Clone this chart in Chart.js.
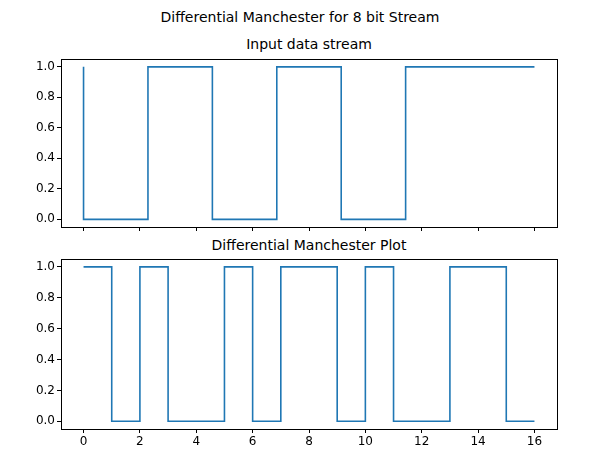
<!DOCTYPE html>
<html><head><meta charset="utf-8">
<script src="https://cdn.jsdelivr.net/npm/chart.js@4"></script>
<style>
body{margin:0;width:600px;height:457px;position:relative;background:#fff;font-family:"DejaVu Sans",sans-serif;overflow:hidden}
.t{position:absolute;color:#000;white-space:nowrap;transform:translate(-50%,-50%)}
canvas{position:absolute;left:0}
</style></head><body>
<div class="t" style="left:300px;top:17px;font-size:14px">Differential Manchester for 8 bit Stream</div>
<div class="t" style="left:309px;top:44px;font-size:14px">Input data stream</div>
<div class="t" style="left:309px;top:245px;font-size:14px">Differential Manchester Plot</div>
<div style="position:absolute;left:0;top:50px;width:600px;height:190px"><canvas id="c1"></canvas></div>
<div style="position:absolute;left:0;top:250px;width:600px;height:207px"><canvas id="c2"></canvas></div>
<script>
const inputX = [0, 16/7, 32/7, 48/7, 64/7, 80/7, 96/7, 16];
const inputY = [1, 0, 1, 0, 1, 0, 1, 1];
const manchX = [0,1,2,3,4,5,6,7,8,9,10,11,12,13,14,15,16];
const manchY = [1,0,1,0,0,1,0,1,1,0,1,0,0,1,1,0,0];
const xTicks = [0,2,4,6,8,10,12,14,16];
const yTicks = [0,0.2,0.4,0.6,0.8,1.0];

const box = {id:'box',afterDraw(c){const a=c.chartArea,x=c.ctx;x.save();x.strokeStyle='#000';x.lineWidth=1;x.strokeRect(Math.round(a.left)+0.5,Math.round(a.top)+0.5,Math.round(a.right-a.left),Math.round(a.bottom-a.top));x.restore();}};

function make(id, xs, ys, stepped, showX, padTop, xh){
  new Chart(document.getElementById(id),{
    type:'line',
    data:{datasets:[{data:xs.map((x,i)=>({x,y:ys[i]})),borderColor:'#1f77b4',borderWidth:1.6,pointRadius:0,stepped:stepped,fill:false}]},
    options:{responsive:true,maintainAspectRatio:false,animation:false,
      layout:{padding:{left:0,right:43,top:padTop,bottom:0}},
      plugins:{legend:{display:false},tooltip:{enabled:false}},
      scales:{
        x:{type:'linear',min:-0.8,max:16.8,
          afterBuildTicks:s=>{s.ticks=xTicks.map(v=>({value:v}));},
          afterFit:s=>{s.height=xh;},
          grid:{drawOnChartArea:false,drawTicks:true,tickLength:4,color:'#000'},
          border:{display:false},
          ticks:{display:showX,color:'#000',font:{family:'DejaVu Sans',size:12},maxRotation:0,padding:2}},
        y:{min:-0.05,max:1.05,
          afterBuildTicks:s=>{s.ticks=yTicks.map(v=>({value:v}));},
          afterFit:s=>{s.width=61;},
          grid:{drawOnChartArea:false,drawTicks:true,tickLength:4,color:'#000'},
          border:{display:false},
          ticks:{color:'#000',font:{family:'DejaVu Sans',size:12},padding:2,callback:v=>v.toFixed(1)}}
      }},
    plugins:[box]
  });
}
make('c1', inputX, inputY, 'after', false, 7, 13);
make('c2', manchX, manchY, 'before', true, 9, 28);
</script>
</body></html>
